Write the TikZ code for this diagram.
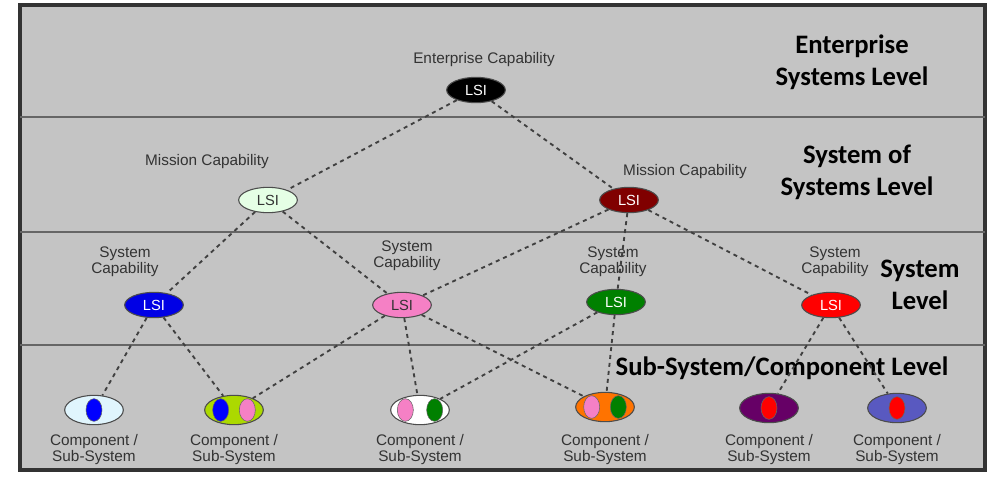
\documentclass[tikz,border=0pt]{standalone}
\usepackage{fontspec}
\setmainfont{Liberation Sans}
\newfontfamily\lvlfont{Carlito}
\usetikzlibrary{shapes.geometric}
\begin{document}
\begin{tikzpicture}[x=0.75pt,y=-0.75pt,
  lsi/.style={ellipse,draw=black!70,line width=0.8pt,minimum width=44pt,minimum height=19pt,inner sep=0pt,font=\fontsize{11}{12}\selectfont,text=white},
  comp/.style={ellipse,draw=black!70,line width=0.8pt,minimum width=44pt,minimum height=22pt,inner sep=0pt},
  dot/.style={ellipse,draw=black!60,line width=0.4pt,minimum width=12pt,minimum height=17pt,inner sep=0pt},
  lab/.style={font=\fontsize{11.5}{12}\selectfont,text=black!80,align=center},
  lvl/.style={font=\lvlfont\bfseries\fontsize{20}{24}\selectfont,align=center},
  conn/.style={dashed,line width=1.4pt,black!75}]
\useasboundingbox (0,0) rectangle (994,486);
\fill[white] (0,0) rectangle (994,486);
\fill[black!23] (20,5) rectangle (985,470);
\draw[black!80,line width=2.5pt] (20,5) rectangle (985,470);
\foreach \y in {117,232,345} \draw[black!60,line width=2pt] (20,\y) -- (985,\y);
% level labels
\node[lvl] (L1) at (852,62) {Enterprise\\Systems Level};
\node[lvl] (L2) at (857,172) {System of\\Systems Level};
\node[lvl] (L3) at (920,285) {System\\Level};
\node[lvl] (L4) at (782,368) {Sub-System/Component Level};
% nodes
\node[lsi,fill=black] (E) at (476,90) {LSI};
\node[lab] at (484,60) {Enterprise Capability};
\node[lsi,fill=green!10,text=black!80] (M1) at (268,200) {LSI};
\node[lab] at (207,162) {Mission Capability};
\node[lsi,fill=red!50!black] (M2) at (629,200) {LSI};
\node[lab] at (685,172) {Mission Capability};
\node[lsi,fill=blue!90!black] (S1) at (154,305) {LSI};
\node[lab] at (125,262) {System\\Capability};
\node[lsi,fill=magenta!50,text=black!80] (S2) at (402,305) {LSI};
\node[lab] at (407,256) {System\\Capability};
\node[lsi,fill=green!50!black] (S3) at (616,302) {LSI};
\node[lab] at (613,262) {System\\Capability};
\node[lsi,fill=red] (S4) at (831,305) {LSI};
\node[lab] at (835,262) {System\\Capability};
% components
\node[comp,fill=cyan!12] (C1) at (94,410) {};
\node[dot,fill=blue] at (C1) {};
\node[comp,fill=lime!70!olive] (C2) at (234,410) {};
\node[dot,fill=blue] at ([xshift=-10pt]C2) {};
\node[dot,fill=magenta!50] at ([xshift=10pt]C2) {};
\node[comp,fill=white] (C3) at (420,410) {};
\node[dot,fill=magenta!50] at ([xshift=-11pt]C3) {};
\node[dot,fill=green!50!black] at ([xshift=11pt]C3) {};
\node[comp,fill=orange!90!red] (C4) at (605,407) {};
\node[dot,fill=magenta!50] at ([xshift=-10pt]C4) {};
\node[dot,fill=green!50!black] at ([xshift=10pt]C4) {};
\node[comp,fill=violet!80!black] (C5) at (769,408) {};
\node[dot,fill=red] at (C5) {};
\node[comp,fill=blue!45!gray!90] (C6) at (897,408) {};
\node[dot,fill=red] at (C6) {};
\foreach \c/\x in {C1/94,C2/234,C3/420,C4/605,C5/769,C6/897}
  \node[lab] at (\x,450) {Component /\\Sub-System};
% connectors
\draw[conn] (E) -- (M1); \draw[conn] (E) -- (M2);
\draw[conn] (M1) -- (S1); \draw[conn] (M1) -- (S2);
\draw[conn] (M2) -- (S2); \draw[conn] (M2) -- (S3); \draw[conn] (M2) -- (S4);
\draw[conn] (S1) -- (C1); \draw[conn] (S1) -- (C2);
\draw[conn] (S2) -- (C2); \draw[conn] (S2) -- (C3); \draw[conn] (S2) -- (C4);
\draw[conn] (S3) -- (C3); \draw[conn] (S3) -- (C4);
\draw[conn] (S4) -- (C5); \draw[conn] (S4) -- (C6);
\end{tikzpicture}
\end{document}
